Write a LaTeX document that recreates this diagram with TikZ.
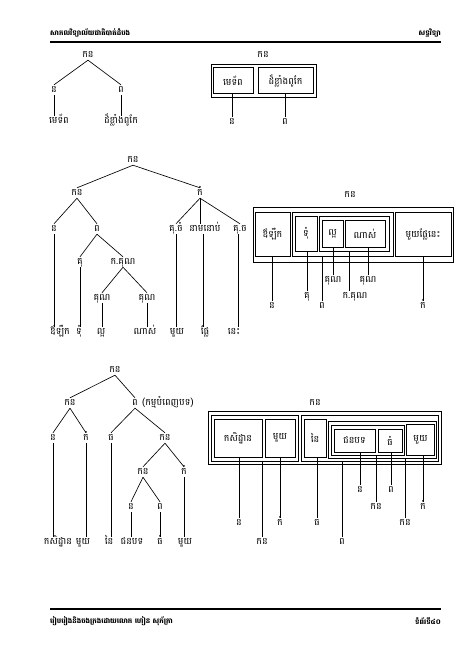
\documentclass[tikz,border=0pt]{standalone}
\usepackage{fontspec}
\newfontfamily\kh[Script=Khmer]{Battambang}
\begin{document}
\begin{tikzpicture}[x=1pt,y=-1pt,
  lb/.style={font=\kh\fontsize{9.5}{9.5}\selectfont, inner sep=1pt, text height=6.5pt, text depth=1.5pt},
  hd/.style={font=\kh\bfseries\fontsize{7}{7}\selectfont, inner sep=0pt},
  bx/.style={draw, line width=0.7pt, inner sep=0pt, outer sep=0pt, font=\kh\fontsize{9.5}{9.5}\selectfont},
  ed/.style={line width=0.65pt},
  rl/.style={line width=2pt}]
\useasboundingbox (0,0) rectangle (474,670);
% header / footer
\node[hd, anchor=west] (h1) at (50,33) {សាកលវិទ្យាល័យជាតិបាត់ដំបង};
\node[hd, anchor=east] (h2) at (441,33) {សទ្ទវិទ្យា};
\coordinate (hr1) at (50,41.5); \coordinate (hr2) at (441,41.5);
\draw[rl] (hr1) -- (hr2);
\coordinate (fr1) at (50,609); \coordinate (fr2) at (441,609);
\draw[rl] (fr1) -- (fr2);
\node[hd, anchor=west] (f1) at (50,621) {រៀបរៀងនិងចងក្រងដោយលោក ហៀន សុភ័ក្រា};
\node[hd, anchor=east] (f2) at (441,621) {ទំព័រទី៤០};

% ---------- tree 1
\node[lb] (t1r) at (88,55) {កន};
\node[lb] (t1n) at (54,90) {ន};
\node[lb] (t1p) at (121,90) {ព};
\node[lb] (t1w1) at (59,121) {មេទ័ព};
\node[lb] (t1w2) at (121,121) {ដ៏ខ្លាំងពូកែ};
\draw[ed] (t1r.south) -- (t1n.north);
\draw[ed] (t1r.south) -- (t1p.north);
\draw[ed] (t1n.south) -- (t1n.south |- t1w1.north);
\draw[ed] (t1p.south) -- (t1p.south |- t1w2.north);

% ---------- box 1
\node[lb] (b1l) at (263,55) {កន};
\node[bx, minimum width=105pt, minimum height=33pt] (b1o) at (263.5,80.5) {};
\node[bx, minimum width=40pt, minimum height=26pt] (b1a) at (233,80.5) {មេទ័ព};
\node[bx, minimum width=55pt, minimum height=26pt] (b1b) at (285.5,80.5) {ដ៏ខ្លាំងពូកែ};
\node[lb] (b1n) at (232,122) {ន};
\node[lb] (b1p) at (285,122) {ព};
\draw[ed] (b1n.north) -- (b1n.north |- b1a.south);
\draw[ed] (b1p.north) -- (b1p.north |- b1b.south);

% ---------- tree 2
\node[lb] (t2r) at (133,160) {កន};
\node[lb] (t2a) at (77,193) {កន};
\node[lb] (t2b) at (200,193) {កំ};
\node[lb] (t2n) at (54,229) {ន};
\node[lb] (t2p) at (97,229) {ព};
\node[lb] (t2g) at (80,262) {គុ};
\node[lb] (t2k) at (123,262) {ក.គុណ};
\node[lb] (t2k1) at (102,298) {គុណ};
\node[lb] (t2k2) at (147,298) {គុណ};
\node[lb] (t2c1) at (176,229) {គុ.ចំ};
\node[lb] (t2c2) at (205,229) {នាមនោប់};
\node[lb] (t2c3) at (240,229) {គុ.ច};
\node[lb] (t2w1) at (60,332) {ឪឡឹក};
\node[lb] (t2w2) at (79,332) {ទុំ};
\node[lb] (t2w3) at (101,332) {ល្អ};
\node[lb] (t2w4) at (145,332) {ណាស់};
\node[lb] (t2w5) at (177,332) {មួយ};
\node[lb] (t2w6) at (205,332) {ផ្លែ};
\node[lb] (t2w7) at (234,332) {នេះ};
\draw[ed] (t2r.south) -- (t2a.north);
\draw[ed] (t2r.south) -- (t2b.north);
\draw[ed] (t2a.south) -- (t2n.north);
\draw[ed] (t2a.south) -- (t2p.north);
\draw[ed] (t2p.south) -- (t2g.north);
\draw[ed] (t2p.south) -- (t2k.north);
\draw[ed] (t2k.south) -- (t2k1.north);
\draw[ed] (t2k.south) -- (t2k2.north);
\draw[ed] (t2b.south) -- (t2c1.north);
\draw[ed] (t2b.south) -- (t2b.south |- t2c2.north);
\draw[ed] (t2b.south) -- (t2c3.north);
\draw[ed] (t2n.south) -- (t2n.south |- t2w1.north);
\draw[ed] (t2g.south) -- (t2g.south |- t2w2.north);
\draw[ed] (t2k1.south) -- (t2k1.south |- t2w3.north);
\draw[ed] (t2k2.south) -- (t2k2.south |- t2w4.north);
\draw[ed] (t2c1.south) -- (t2c1.south |- t2w5.north);
\draw[ed] ([xshift=-2pt]t2c2.south) -- ([xshift=-2pt]t2c2.south |- t2w6.north);
\draw[ed] ([xshift=-2pt]t2c3.south) -- ([xshift=-2pt]t2c3.south |- t2w7.north);

% ---------- box 2
\node[lb] (b2l) at (350,195) {កន};
\node[bx, minimum width=200pt, minimum height=55pt] (b2o) at (353,234.5) {};
\node[bx, minimum width=35pt, minimum height=44pt] (b2a) at (272.5,234.5) {ឪឡឹក};
\node[bx, minimum width=101pt, minimum height=44pt] (b2b) at (342.5,234.5) {};
\node[bx, minimum width=22pt, minimum height=35pt] (b2c) at (306,233.5) {ទុំ};
\node[bx, minimum width=70pt, minimum height=35pt] (b2d) at (354,233.5) {};
\node[bx, minimum width=21pt, minimum height=27pt] (b2e) at (332.5,233.5) {ល្អ};
\node[bx, minimum width=40pt, minimum height=27pt] (b2f) at (365,233.5) {ណាស់};
\node[bx, minimum width=56pt, minimum height=44pt] (b2g) at (423,234.5) {មួយផ្លែនេះ};
\node[lb] (b2n) at (272,306) {ន};
\node[lb] (b2gu) at (307,296) {គុ};
\node[lb] (b2p) at (322,306) {ព};
\node[lb] (b2q1) at (333,280) {គុណ};
\node[lb] (b2kq) at (355,296) {ក.គុណ};
\node[lb] (b2q2) at (368,280) {គុណ};
\node[lb] (b2k) at (423,306) {កំ};
\draw[ed] (b2n.north) -- (b2n.north |- b2a.south);
\draw[ed] (b2gu.north) -- (b2gu.north |- b2c.south);
\draw[ed] (b2p.north) -- (b2p.north |- b2b.south);
\draw[ed] (b2q1.north) -- (b2q1.north |- b2e.south);
\draw[ed] ([xshift=-6pt]b2kq.north) -- ([xshift=-6pt]b2kq.north |- b2d.south);
\draw[ed] (b2q2.north) -- (b2q2.north |- b2f.south);
\draw[ed] (b2k.north) -- (b2k.north |- b2g.south);

% ---------- tree 3
\node[lb] (t3r) at (115,370) {កន};
\node[lb] (t3a) at (70,403) {កន};
\node[lb] (t3b) at (135,403) {ព};
\node[lb, anchor=west] (t3bx) at (141,403) {(កម្មបំពេញបទ)};
\node[lb] (t3n) at (53,438) {ន};
\node[lb] (t3k) at (86,438) {កំ};
\node[lb] (t3d) at (111,438) {ធ};
\node[lb] (t3c) at (165,438) {កន};
\node[lb] (t3c1) at (143,472) {កន};
\node[lb] (t3c2) at (184,472) {កំ};
\node[lb] (t3e) at (131,507) {ន};
\node[lb] (t3f) at (160,507) {ព};
\node[lb] (t3w1) at (58,542) {កសិដ្ឋាន};
\node[lb] (t3w2) at (83,542) {មួយ};
\node[lb] (t3w3) at (109,542) {នៃ};
\node[lb] (t3w4) at (132,542) {ជនបទ};
\node[lb] (t3w5) at (160,542) {ធំ};
\node[lb] (t3w6) at (185,542) {មួយ};
\draw[ed] (t3r.south) -- (t3a.north);
\draw[ed] (t3r.south) -- (t3b.north);
\draw[ed] (t3a.south) -- (t3n.north);
\draw[ed] (t3a.south) -- (t3k.north);
\draw[ed] (t3b.south) -- (t3d.north);
\draw[ed] (t3b.south) -- (t3c.north);
\draw[ed] (t3c.south) -- (t3c1.north);
\draw[ed] (t3c.south) -- (t3c2.north);
\draw[ed] (t3c1.south) -- (t3e.north);
\draw[ed] (t3c1.south) -- (t3f.north);
\draw[ed] (t3n.south) -- (t3n.south |- t3w1.north);
\draw[ed] (t3k.south) -- (t3k.south |- t3w2.north);
\draw[ed] (t3d.south) -- (t3d.south |- t3w3.north);
\draw[ed] (t3e.south) -- (t3e.south |- t3w4.north);
\draw[ed] (t3f.south) -- (t3f.south |- t3w5.north);
\draw[ed] (t3c2.south) -- (t3c2.south |- t3w6.north);

% ---------- box 3
\node[lb] (b3l) at (315,403) {កន};
\node[bx, minimum width=233pt, minimum height=53pt] (b3o) at (324.5,437.5) {};
\node[bx, minimum width=87pt, minimum height=46pt] (b3g) at (254.5,438) {};
\node[bx, minimum width=48pt, minimum height=38pt] (b3g1) at (238,438) {កសិដ្ឋាន};
\node[bx, minimum width=30pt, minimum height=38pt] (b3g2) at (280,438) {មួយ};
\node[bx, minimum width=137pt, minimum height=46pt] (b3r) at (370,438) {};
\node[bx, minimum width=22pt, minimum height=38pt] (b3a) at (315,438) {នៃ};
\node[bx, minimum width=108pt, minimum height=37pt] (b3b) at (382.5,439.5) {};
\node[bx, minimum width=73pt, minimum height=30pt] (b3c) at (367.5,440) {};
\node[bx, minimum width=41pt, minimum height=23pt] (b3c1) at (354.5,440.5) {ជនបទ};
\node[bx, minimum width=24pt, minimum height=23pt] (b3c2) at (390,440.5) {ធំ};
\node[bx, minimum width=28pt, minimum height=31pt] (b3d) at (420.5,439.5) {មួយ};
\node[lb] (b3n) at (239,523) {ន};
\node[lb] (b3kn) at (262,542) {កន};
\node[lb] (b3k) at (280,523) {កំ};
\node[lb] (b3t) at (317,523) {ធ};
\node[lb] (b3p) at (342,542) {ព};
\node[lb] (b3n2) at (360,490) {ន};
\node[lb] (b3kn2) at (376,507) {កន};
\node[lb] (b3p2) at (391,490) {ព};
\node[lb] (b3kn3) at (405,523) {កន};
\node[lb] (b3k2) at (423,507) {កំ};
\draw[ed] (b3n.north) -- (b3n.north |- b3g1.south);
\draw[ed] (b3kn.north) -- (b3kn.north |- b3g.south);
\draw[ed] (b3k.north) -- (b3k.north |- b3g2.south);
\draw[ed] (b3t.north) -- (b3t.north |- b3a.south);
\draw[ed] (b3p.north) -- (b3p.north |- b3r.south);
\draw[ed] (b3n2.north) -- (b3n2.north |- b3c1.south);
\draw[ed] (b3kn2.north) -- (b3kn2.north |- b3c.south);
\draw[ed] (b3p2.north) -- (b3p2.north |- b3c2.south);
\draw[ed] (b3kn3.north) -- (b3kn3.north |- b3b.south);
\draw[ed] (b3k2.north) -- (b3k2.north |- b3d.south);
\end{tikzpicture}
\end{document}
